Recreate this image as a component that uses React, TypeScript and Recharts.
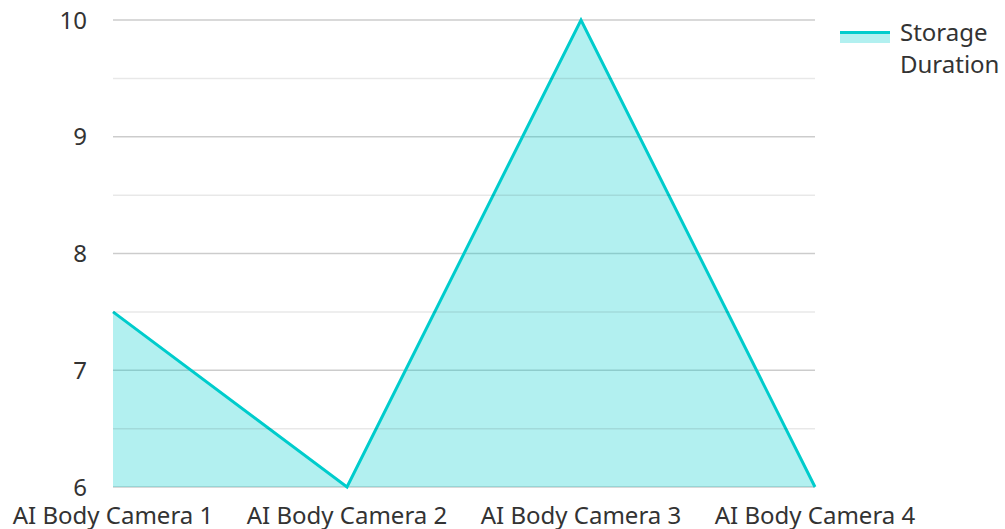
import React from 'react'
import { AreaChart, Area, XAxis, YAxis, CartesianGrid, ReferenceLine } from 'recharts'

const cameras = ['AI Body Camera 1', 'AI Body Camera 2', 'AI Body Camera 3', 'AI Body Camera 4']
const storageDuration = [7.5, 6, 10, 6]
const majorTicks = [6, 7, 8, 9, 10]
const minorTicks = [6.5, 7.5, 8.5, 9.5]

const data = cameras.map((name, i) => ({ name, value: storageDuration[i] }))

const FONT = '"Noto Sans", sans-serif'
const TEAL = '#00cccc'

const LegendBox = () => (
  <div
    style={{
      position: 'absolute', left: 840, top: 16, display: 'flex', alignItems: 'flex-start',
      fontFamily: FONT, fontSize: 24, lineHeight: '32px', color: '#333',
    }}
  >
    <div style={{ width: 50, marginTop: 15, marginRight: 10 }}>
      <div style={{ height: 3, background: TEAL }} />
      <div style={{ height: 9, background: 'rgba(0,204,204,0.3)' }} />
    </div>
    <div style={{ width: 110 }}>Storage Duration</div>
  </div>
)

export default function App() {
  return (
    <div style={{ position: 'absolute', left: 0, top: 0, width: 1005, height: 529, background: '#fff' }}>
      <AreaChart width={1005} height={529} data={data} margin={{ top: 20, right: 190, bottom: 0, left: 0 }}>
        <CartesianGrid vertical={false} stroke="rgba(0,0,0,0.2)" strokeWidth={1.5} />
        {minorTicks.map((v) => (
          <ReferenceLine key={v} y={v} stroke="rgba(0,0,0,0.09)" strokeWidth={1.5} />
        ))}
        <XAxis
          dataKey="name"
          height={42}
          axisLine={false}
          tickLine={false}
          tickSize={0}
          tickMargin={20}
          interval={0}
          tick={{ fill: '#333', fontSize: 24, fontFamily: FONT }}
        />
        <YAxis
          width={113}
          domain={[6, 10]}
          ticks={majorTicks}
          axisLine={false}
          tickLine={false}
          tickSize={0}
          tickMargin={26}
          tick={{ fill: '#333', fontSize: 24, fontFamily: FONT }}
        />
        <Area
          type="linear"
          dataKey="value"
          name="Storage Duration"
          stroke={TEAL}
          strokeWidth={3}
          fill={TEAL}
          fillOpacity={0.3}
          dot={false}
          activeDot={false}
          isAnimationActive={false}
        />
      </AreaChart>
      <LegendBox />
    </div>
  )
}
